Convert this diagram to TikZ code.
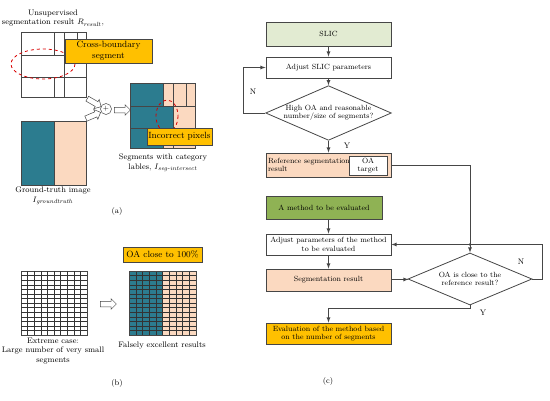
\documentclass[tikz,border=0pt]{standalone}
\usepackage{tikz}
\usetikzlibrary{shapes.geometric, shapes.arrows, arrows, calc}
\usepackage{amsmath, amssymb}

\definecolor{segteal}{RGB}{44,124,143}
\definecolor{segpeach}{RGB}{251,217,192}
\definecolor{boxgold}{RGB}{255,192,0}
\definecolor{slicgreen}{RGB}{226,235,210}
\definecolor{methgreen}{RGB}{143,178,84}
\definecolor{edgegray}{RGB}{70,70,70}

\tikzset{
  gridline/.style={draw=edgegray, line width=0.6pt},
  finegrid/.style={draw=black!80, line width=0.4pt},
  lbl/.style={font=\footnotesize, align=center, inner sep=0pt},
  tagbox/.style={draw=edgegray, line width=0.7pt, fill=boxgold, font=\small, align=center, inner sep=1pt},
  hollowarrow/.style={single arrow, draw=edgegray, fill=white, line width=0.5pt, minimum height=16, single arrow head extend=2.5pt, inner sep=2.5pt},
  flowbox/.style={draw=edgegray, line width=0.8pt, minimum width=125, minimum height=21, inner sep=1pt, font=\fontsize{7.5}{8.5}\selectfont, align=center},
  decision/.style={diamond, draw=edgegray, line width=0.8pt, minimum width=124, minimum height=54, shape aspect=2.3, inner sep=0pt, font=\fontsize{7.5}{8.5}\selectfont, align=center},
  flowarrow/.style={->, draw=edgegray, line width=0.8pt},
  ringdash/.style={draw=red!85!black, dashed, line width=0.8pt}
}

\begin{document}
\begin{tikzpicture}[x=1pt, y=-1pt, >=latex]
    \useasboundingbox (0,0) rectangle (550,400);

    % (a) Unsupervised segmentation result
    \node[lbl] (restitle) at (53,18) {Unsupervised\\segmentation result $R_{\mathit{result}}$,};
    \draw[gridline] (21,32) rectangle (86,97);
    \draw[gridline] (21,55) -- (86,55);
    \draw[gridline] (21,77) -- (86,77);
    \draw[gridline] (54,32) -- (54,55);
    \draw[gridline] (54,77) -- (54,97);
    \draw[gridline] (64,32) -- (64,97);
    \draw[gridline] (77,32) -- (77,55);
    \draw[ringdash] (43,64) ellipse (32 and 15);
    \node[tagbox, minimum width=87, minimum height=24] (crossbox) at (108.5,51) {Cross-boundary\\segment};

    % (a) Ground-truth image
    \fill[segteal] (21,121) rectangle (54,185);
    \fill[segpeach] (54,121) rectangle (86,185);
    \draw[gridline] (21,121) rectangle (86,185);
    \draw[gridline] (54,121) -- (54,185);
    \node[lbl] (gttitle) at (53,196) {Ground-truth image\\$I_{\mathit{groundtruth}}$};

    % (a) Intersection
    \node[hollowarrow, rotate=-30] (arrtop) at (93,102) {};
    \node[hollowarrow, rotate=23] (arrlow) at (92,116) {};
    \node[circle, draw=edgegray, line width=0.5pt, minimum size=11, inner sep=0pt, font=\scriptsize] (plus) at (106,109) {$+$};
    \node[hollowarrow] (arrright) at (121,110) {};

    % (a) Segments with category labels
    \fill[segteal] (130,83) rectangle (163,106);
    \fill[segpeach] (163,83) rectangle (195,106);
    \fill[segteal] (130,106) rectangle (173,128);
    \fill[segpeach] (173,106) rectangle (195,128);
    \fill[segteal] (130,128) rectangle (163,148);
    \fill[segpeach] (163,128) rectangle (195,148);
    \draw[gridline] (130,83) rectangle (195,148);
    \draw[gridline] (130,106) -- (195,106);
    \draw[gridline] (130,128) -- (195,128);
    \draw[gridline] (163,83) -- (163,106);
    \draw[gridline] (163,128) -- (163,148);
    \draw[gridline] (173,83) -- (173,148);
    \draw[gridline] (186,83) -- (186,106);
    \draw[ringdash] (167,116) ellipse (11 and 16);
    \node[tagbox, minimum width=65, minimum height=17] (wrongbox) at (179.5,136.5) {Incorrect pixels};
    \node[lbl] (segtitle) at (163,163) {Segments with category\\lables, $I_{\mathit{seg\text{-}intersect}}$};
    \node[lbl] (capa) at (117,211) {(a)};

    % (b) Extreme case
    \node[tagbox, minimum width=79, minimum height=15] (oabox) at (162.5,254.5) {OA close to 100\%};
    \draw[gridline] (21,271) rectangle (87,335);
    \foreach \i in {1,...,9}
        \draw[finegrid] (21+6.6*\i,271) -- (21+6.6*\i,335);
    \foreach \j in {1,...,13}
        \draw[finegrid] (21,271+64/14*\j) -- (87,271+64/14*\j);
    \node[lbl] (extremetitle) at (53,351) {Extreme case:\\Large number of very small\\segments};
    \node[hollowarrow] (arrb) at (107,304) {};
    \fill[segteal] (129,271) rectangle (162,335);
    \fill[segpeach] (162,271) rectangle (196,335);
    \foreach \i in {1,...,9}
        \draw[finegrid] (129+6.7*\i,271) -- (129+6.7*\i,335);
    \foreach \j in {1,...,13}
        \draw[finegrid] (129,271+64/14*\j) -- (196,271+64/14*\j);
    \draw[gridline] (129,271) rectangle (196,335);
    \node[lbl] (falsetitle) at (162,346) {Falsely excellent results};
    \node[lbl] (capb) at (117,383) {(b)};

    % (c) Reference from SLIC
    \node[flowbox, fill=slicgreen, minimum height=24] (slic) at (328.5,34) {SLIC};
    \node[flowbox] (adjslic) at (328.5,67.5) {Adjust SLIC parameters};
    \node[decision] (check1) at (328.5,113) {High OA and reasonable\\number/size of segments?};
    \node[flowbox, fill=segpeach, minimum height=24, text width=121, align=left] (refres) at (328.5,165) {Reference segmentation\\result};
    \node[flowbox, fill=white, minimum width=38, minimum height=19, text width=34] (oatarget) at (368,165.5) {OA\\target};
    \draw[flowarrow] (slic) -- (adjslic);
    \draw[flowarrow] (adjslic) -- (check1);
    \draw[flowarrow] (check1.west) -- ++(-22,0) |- (adjslic.west);
    \node[lbl] (nfirst) at (253,92) {N};
    \draw[flowarrow] (check1) -- (refres);
    \node[lbl] (yfirst) at (347,146) {Y};

    % (c) Method to be evaluated
    \node[flowbox, fill=methgreen, minimum width=116, minimum height=23] (method) at (324,207.5) {A method to be evaluated};
    \node[flowbox] (adjmeth) at (328.5,244.5) {Adjust parameters of the method\\to be evaluated};
    \node[flowbox, fill=segpeach, minimum height=22] (segres) at (328.5,280) {Segmentation result};
    \node[decision, minimum height=52] (check2) at (470,279) {OA is close to the\\reference result?};
    \node[flowbox, fill=boxgold, minimum height=21] (evalbox) at (328.5,333.5) {Evaluation of the method based\\on the number of segments};
    \draw[flowarrow] (method.south -| adjmeth.north) -- (adjmeth.north);
    \draw[flowarrow] (adjmeth) -- (segres);
    \draw[flowarrow] (segres) -- (check2);
    \draw[flowarrow] (refres.east) -| (check2.north);
    \draw[flowarrow] (check2.east) -- ++(10,0) |- (adjmeth.east);
    \fill[edgegray] (check2.north |- adjmeth.east) circle (1.3);
    \node[lbl] (nsecond) at (521,262) {N};
    \draw[flowarrow] (check2.south) -- ++(0,3) -| (evalbox.north);
    \node[lbl] (ysecond) at (483,313) {Y};
    \node[lbl] (capc) at (328,381) {(c)};

\end{tikzpicture}
\end{document}
